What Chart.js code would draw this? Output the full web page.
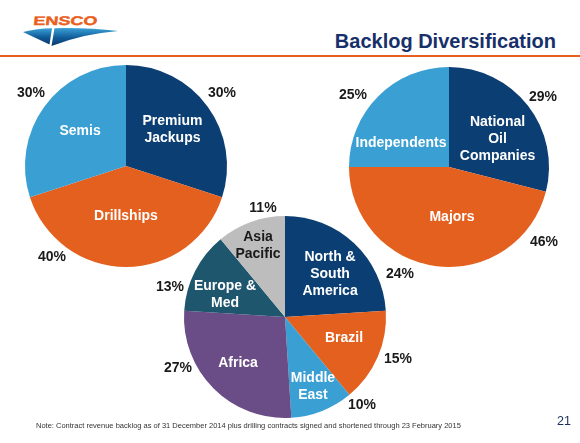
<!DOCTYPE html>
<html>
<head>
<meta charset="utf-8">
<script src="https://cdn.jsdelivr.net/npm/chart.js@4"></script>
<style>
  html, body { margin: 0; padding: 0; background: #ffffff; }
  #page { position: relative; width: 580px; height: 443px; overflow: hidden; background: #fff;
          font-family: "Liberation Sans", Arial, Helvetica, sans-serif; }
  #page canvas { position: absolute; left: 0; top: 0; }
  #rule { position: absolute; left: 0; top: 55px; width: 580px; height: 2px; background: #e8601c; }
  #title { position: absolute; right: 24px; top: 30px; font-size: 20px; font-weight: bold; color: #17306a; white-space: nowrap; }
  #note { position: absolute; left: 36px; top: 421px; font-size: 7.5px; color: #333; white-space: nowrap; }
  #pageno { position: absolute; left: 557px; top: 414px; font-size: 12.5px; color: #1b2e5e; }
  #logo { position: absolute; left: 0; top: 0; }
</style>
</head>
<body>
<div id="page">
  <svg id="logo" width="140" height="52" viewBox="0 0 140 52">
    <defs>
      <linearGradient id="sw" x1="0" y1="0" x2="0" y2="1">
        <stop offset="0" stop-color="#3aa0d6"/>
        <stop offset="0.55" stop-color="#0f5a98"/>
        <stop offset="1" stop-color="#0a3a6e"/>
      </linearGradient>
    </defs>
    <text x="33" y="25" font-family="Liberation Sans, Arial, sans-serif" font-weight="bold" font-size="12.5"
          fill="#e8601c" stroke="#e8601c" stroke-width="0.4" textLength="64" lengthAdjust="spacingAndGlyphs" transform="skewX(-6) translate(2.6,0)">ENSCO</text>
    <path d="M23,32 Q37,28.5 52,28.3 L49.5,44.5 Z" fill="url(#sw)"/>
    <path d="M54.5,28.2 Q88,27.5 118,31 Q84,33.5 51.5,46 Z" fill="url(#sw)"/>
  </svg>
  <div id="title">Backlog Diversification</div>
  <div id="rule"></div>
  <canvas id="c1" width="580" height="443"></canvas>
  <canvas id="c2" width="580" height="443"></canvas>
  <canvas id="c3" width="580" height="443"></canvas>
  <div id="note">Note: Contract revenue backlog as of 31 December 2014 plus drilling contracts signed and shortened through 23 February 2015</div>
  <div id="pageno">21</div>
</div>
<script>
// ---------- DATA ----------
const segmentCategories = ['Premium Jackups', 'Drillships', 'Semis'];
const segmentValues = [30, 40, 30];
const segmentLabelLines = [['Premium', 'Jackups'], ['Drillships'], ['Semis']];

const customerCategories = ['National Oil Companies', 'Majors', 'Independents'];
const customerValues = [29, 46, 25];
const customerLabelLines = [['National', 'Oil', 'Companies'], ['Majors'], ['Independents']];

const regionCategories = ['North & South America', 'Brazil', 'Middle East', 'Africa', 'Europe & Med', 'Asia Pacific'];
const regionValues = [24, 15, 10, 27, 13, 11];
const regionLabelLines = [['North &', 'South', 'America'], ['Brazil'], ['Middle', 'East'], ['Africa'], ['Europe &', 'Med'], ['Asia', 'Pacific']];

// ---------- STYLE ----------
const NAVY = '#0b3e72', LIGHT = '#3a9fd3', ORANGE = '#e3601f', PURPLE = '#6a4c86', TEAL = '#1e566e', GREY = '#bdbdbd';
const W = 580, H = 443;
const FONT = '"Liberation Sans", Arial, Helvetica, sans-serif';

// label placement relative to slice centre, in units of the pie radius
const layouts = {
  c1: {
    center: [126, 166], radius: 101,
    colors: [NAVY, ORANGE, LIGHT],
    innerColors: ['#fff', '#fff', '#fff'],
    inner: [[0.46, -0.356], [0, 0.495], [-0.455, -0.347]],
    outer: [[0.95, -0.723], [-0.733, 0.901], [-0.941, -0.723]]
  },
  c2: {
    center: [449, 167], radius: 100,
    colors: [NAVY, ORANGE, LIGHT],
    innerColors: ['#fff', '#fff', '#fff'],
    inner: [[0.485, -0.28], [0.03, 0.5], [-0.48, -0.24]],
    outer: [[0.94, -0.70], [0.95, 0.75], [-0.96, -0.72]]
  },
  c3: {
    center: [285, 317], radius: 101,
    colors: [NAVY, ORANGE, LIGHT, PURPLE, TEAL, GREY],
    innerColors: ['#fff', '#fff', '#fff', '#fff', '#fff', '#1a1a1a'],
    inner: [[0.446, -0.426], [0.584, 0.208], [0.277, 0.693], [-0.465, 0.455], [-0.594, -0.218], [-0.267, -0.708]],
    outer: [[1.139, -0.426], [1.119, 0.416], [0.762, 0.871], [-1.059, 0.505], [-1.139, -0.297], [-0.218, -1.079]]
  }
};

const sliceLabelPlugin = {
  id: 'sliceLabels',
  afterDatasetsDraw(chart, args, opts) {
    const ctx = chart.ctx;
    const meta = chart.getDatasetMeta(0);
    const values = chart.data.datasets[0].data;
    ctx.save();
    ctx.textAlign = 'center';
    ctx.textBaseline = 'middle';
    meta.data.forEach((arc, i) => {
      const r = arc.outerRadius;
      const [ix, iy] = opts.inner[i];
      const lines = opts.lines[i];
      const lh = 17;
      ctx.font = 'bold 14px ' + FONT;
      ctx.fillStyle = opts.innerColors[i];
      lines.forEach((ln, k) => {
        const y = arc.y + iy * r + (k - (lines.length - 1) / 2) * lh;
        ctx.fillText(ln, arc.x + ix * r, y);
      });
      const [ox, oy] = opts.outer[i];
      ctx.fillStyle = '#1a1a1a';
      ctx.fillText(values[i] + '%', arc.x + ox * r, arc.y + oy * r);
    });
    ctx.restore();
  }
};

function makePie(id, categories, values, lines) {
  const L = layouts[id];
  const [cx, cy] = L.center, r = L.radius;
  new Chart(document.getElementById(id), {
    type: 'pie',
    data: {
      labels: categories,
      datasets: [{ data: values, backgroundColor: L.colors, borderWidth: 0 }]
    },
    options: {
      responsive: false,
      animation: false,
      events: [],
      layout: { padding: { left: cx - r, top: cy - r, right: W - cx - r, bottom: H - cy - r } },
      plugins: {
        legend: { display: false },
        tooltip: { enabled: false },
        sliceLabels: { inner: L.inner, outer: L.outer, innerColors: L.innerColors, lines: lines }
      }
    },
    plugins: [sliceLabelPlugin]
  });
}

makePie('c1', segmentCategories, segmentValues, segmentLabelLines);
makePie('c2', customerCategories, customerValues, customerLabelLines);
makePie('c3', regionCategories, regionValues, regionLabelLines);
</script>
</body>
</html>
